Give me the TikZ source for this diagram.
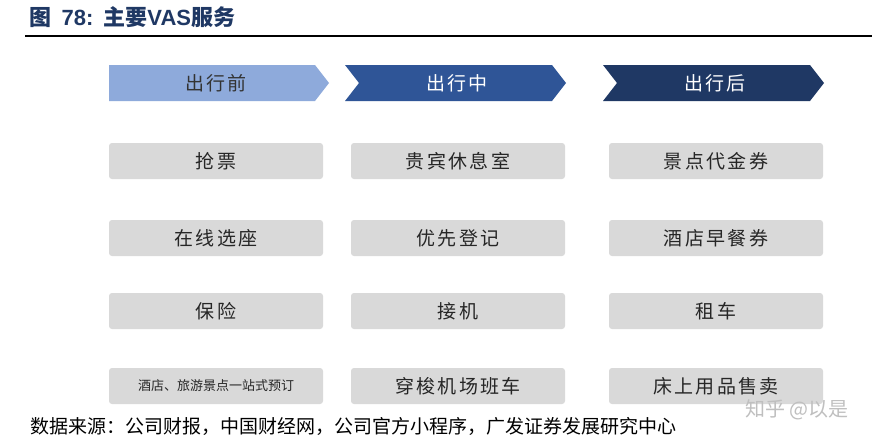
\documentclass[tikz,border=0pt]{standalone}
\usepackage{fontspec}
\setmainfont{Liberation Sans}
\newfontfamily\cjk{Noto Sans CJK SC}
\newfontfamily\cjksp[LetterSpace=12]{Noto Sans CJK SC}
\definecolor{navy}{HTML}{1F3864}
\definecolor{mid}{HTML}{2F5597}
\definecolor{light}{HTML}{8EAADB}
\definecolor{boxg}{HTML}{D9D9D9}
\begin{document}
\begin{tikzpicture}[x=1pt,y=-1pt,
 box/.style={fill=boxg,rounded corners=3pt,minimum width=214pt,minimum height=36pt,inner sep=0pt,font=\cjksp\fontsize{19}{19}\selectfont,text=black!85},
 chev/.style={font=\cjksp\fontsize{19}{19}\selectfont}]
\useasboundingbox (0,0) rectangle (872,445);
\fill[white] (0,0) rectangle (872,445);
\node[anchor=west,font=\cjk\bfseries\fontsize{22}{22}\selectfont,text=navy] (title) at (26,17) {图\ \ {\fontspec{Liberation Sans}\bfseries 78:}\ \ 主要{\fontspec{Liberation Sans}\bfseries VAS}服务};
\draw[line width=1.5pt] (25,36) -- (872,36);
% chevrons
\fill[light] (109,65) -- (315,65) -- (329,83) -- (315,101) -- (109,101) -- cycle;
\node[chev,text=black!80] (c1) at (216,83) {出行前};
\fill[mid] (345,65) -- (552,65) -- (566,83) -- (552,101) -- (345,101) -- (359,83) -- cycle;
\node[chev,text=white] (c2) at (457,83) {出行中};
\fill[navy] (603,65) -- (810,65) -- (824,83) -- (810,101) -- (603,101) -- (617,83) -- cycle;
\node[chev,text=white] (c3) at (715,83) {出行后};
% boxes
\node[box] (a1) at (216,161) {抢票};
\node[box] (a2) at (216,238) {在线选座};
\node[box] (a3) at (216,311) {保险};
\node[box,font=\cjk\fontsize{13}{13}\selectfont] (a4) at (216,386) {酒店、旅游景点一站式预订};
\node[box] (b1) at (458,161) {贵宾休息室};
\node[box] (b2) at (458,238) {优先登记};
\node[box] (b3) at (458,311) {接机};
\node[box] (b4) at (458,386) {穿梭机场班车};
\node[box] (d1) at (716,161) {景点代金券};
\node[box] (d2) at (716,238) {酒店早餐券};
\node[box] (d3) at (716,311) {租车};
\node[box] (d4) at (716,386) {床上用品售卖};
\node[anchor=west,font=\cjk\fontsize{19}{19}\selectfont] (src) at (27,426) {数据来源：公司财报，中国财经网，公司官方小程序，广发证券发展研究中心};
\node[anchor=east,font=\cjk\fontsize{20}{20}\selectfont,text=black!25] (wm) at (852,410) {知乎 @以是};
\end{tikzpicture}
\end{document}
